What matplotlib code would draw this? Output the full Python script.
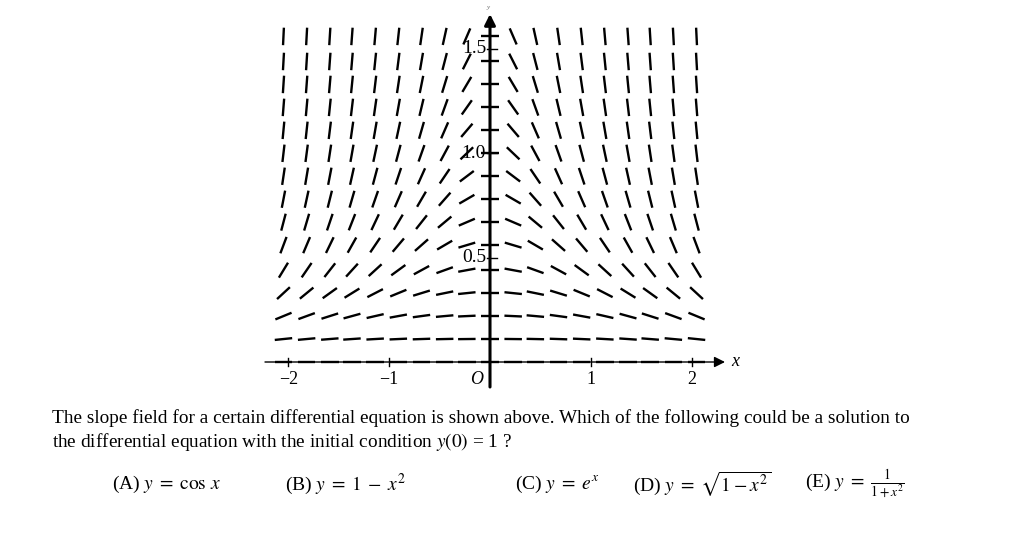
import numpy as np
import matplotlib
matplotlib.use("Agg")
import matplotlib.pyplot as plt
from matplotlib.collections import LineCollection

# ---------------------------
# Data
# ---------------------------

# slope field dy/dx = -2 x y^2, sampled on this grid
x_cols = [-2.05, -1.82, -1.59, -1.37, -1.14, -0.91, -0.68, -0.45, -0.23, 0.0,
          0.23, 0.45, 0.68, 0.91, 1.14, 1.37, 1.59, 1.82, 2.05]
y_rows = [0.0, 0.11, 0.22, 0.33, 0.44, 0.56, 0.67, 0.78, 0.89, 1.0,
          1.11, 1.22, 1.33, 1.44, 1.56]

x_ticks = [-2, -1, 1, 2]
x_tick_labels = ["\u22122", "\u22121", "1", "2"]
y_ticks = [0.5, 1.0, 1.5]
y_tick_labels = ["0.5", "1.0", "1.5"]

question_lines = [
    "The slope field for a certain differential equation is shown above. "
    "Which of the following could be a solution to",
    "the differential equation with the initial condition $y(0)$ = 1 ?",
]
choices = ["(A) $y\\;=\\;\\cos\\,x$",
           "(B) $y\\;=\\;1\\;-\\;x^2$",
           "(C) $y\\;=\\;e^x$",
           "(D) $y\\;=\\;\\sqrt{1 - x^2}$",
           "(E) $y\\;=\\;\\frac{1}{1+x^2}$"]
choice_x_px = [112, 285, 515, 633, 805]


def slope(x, y):
    return -2 * x * y ** 2


# ---------------------------
# Style
# ---------------------------

plt.rcParams["font.family"] = "Liberation Serif"
plt.rcParams["mathtext.fontset"] = "stix"

W, H = 1024, 537
fig = plt.figure(figsize=(W / 100, H / 100), dpi=100)
fig.patch.set_facecolor("white")
ax = fig.add_axes([0, 0, 1, 1])
ax.set_axis_off()

# pixel mapping: x=0 at px 490, 100.75 px per unit; y=0 at px 362, 208.7 px per unit
x0_px, sx = 490, 100.75
y0_px, sy = 362, 208.7
ax.set_xlim(-x0_px / sx, (W - x0_px) / sx)
ax.set_ylim((y0_px - H) / sy, y0_px / sy)

# ---------------------------
# Axes lines
# ---------------------------

ax.annotate("", xy=((725 - x0_px) / sx, 0), xytext=((265 - x0_px) / sx, 0),
            arrowprops=dict(arrowstyle="-|>", lw=1.0, color="black",
                            mutation_scale=16, shrinkA=0, shrinkB=0))
ax.annotate("", xy=(0, (y0_px - 14) / sy), xytext=(0, (y0_px - 387) / sy),
            arrowprops=dict(arrowstyle="-|>", lw=2.2, color="black",
                            mutation_scale=16, shrinkA=0, shrinkB=0))

ax.text((735 - x0_px) / sx, 0, "x", style="italic", fontsize=13,
        ha="center", va="center")
ax.text(-0.02, (y0_px - 8) / sy, "y", style="italic", fontsize=5,
        ha="center", va="center", color="0.4")

for t, lab in zip(x_ticks, x_tick_labels):
    ax.plot([t, t], [-4 / sy, 4 / sy], color="black", lw=1.0)
    ax.text(t, -18 / sy, lab, fontsize=13, ha="center", va="center")
ax.text(-13 / sx, -17 / sy, "O", style="italic", fontsize=13,
        ha="center", va="center")

for t, lab in zip(y_ticks, y_tick_labels):
    ax.plot([-3 / sx, 7 / sx], [t, t], color="black", lw=1.0)
    ax.text(-4 / sx, t, lab, fontsize=14, ha="right", va="center",
            zorder=4)

# ---------------------------
# Slope segments (constant length on screen)
# ---------------------------

seg_len = 17.5
segs = []
for y in y_rows:
    for x in x_cols:
        m = slope(x, y) * sy / sx
        th = np.arctan(m)
        dx = 0.5 * seg_len * np.cos(th) / sx
        dy = 0.5 * seg_len * np.sin(th) / sy
        segs.append([(x - dx, y - dy), (x + dx, y + dy)])

ax.add_collection(LineCollection(segs, colors="black", linewidths=1.7,
                                 capstyle="butt", zorder=3))

# ---------------------------
# Question text
# ---------------------------

for line, ypx in zip(question_lines, [418, 442]):
    fig.text(52 / W, 1 - ypx / H, line, fontsize=13.85, ha="left",
             va="center")
for cx, c in zip(choice_x_px, choices):
    fig.text(cx / W, 1 - 484 / H, c, fontsize=14, ha="left", va="center")

fig.savefig("out.png", dpi=100, facecolor="white")
